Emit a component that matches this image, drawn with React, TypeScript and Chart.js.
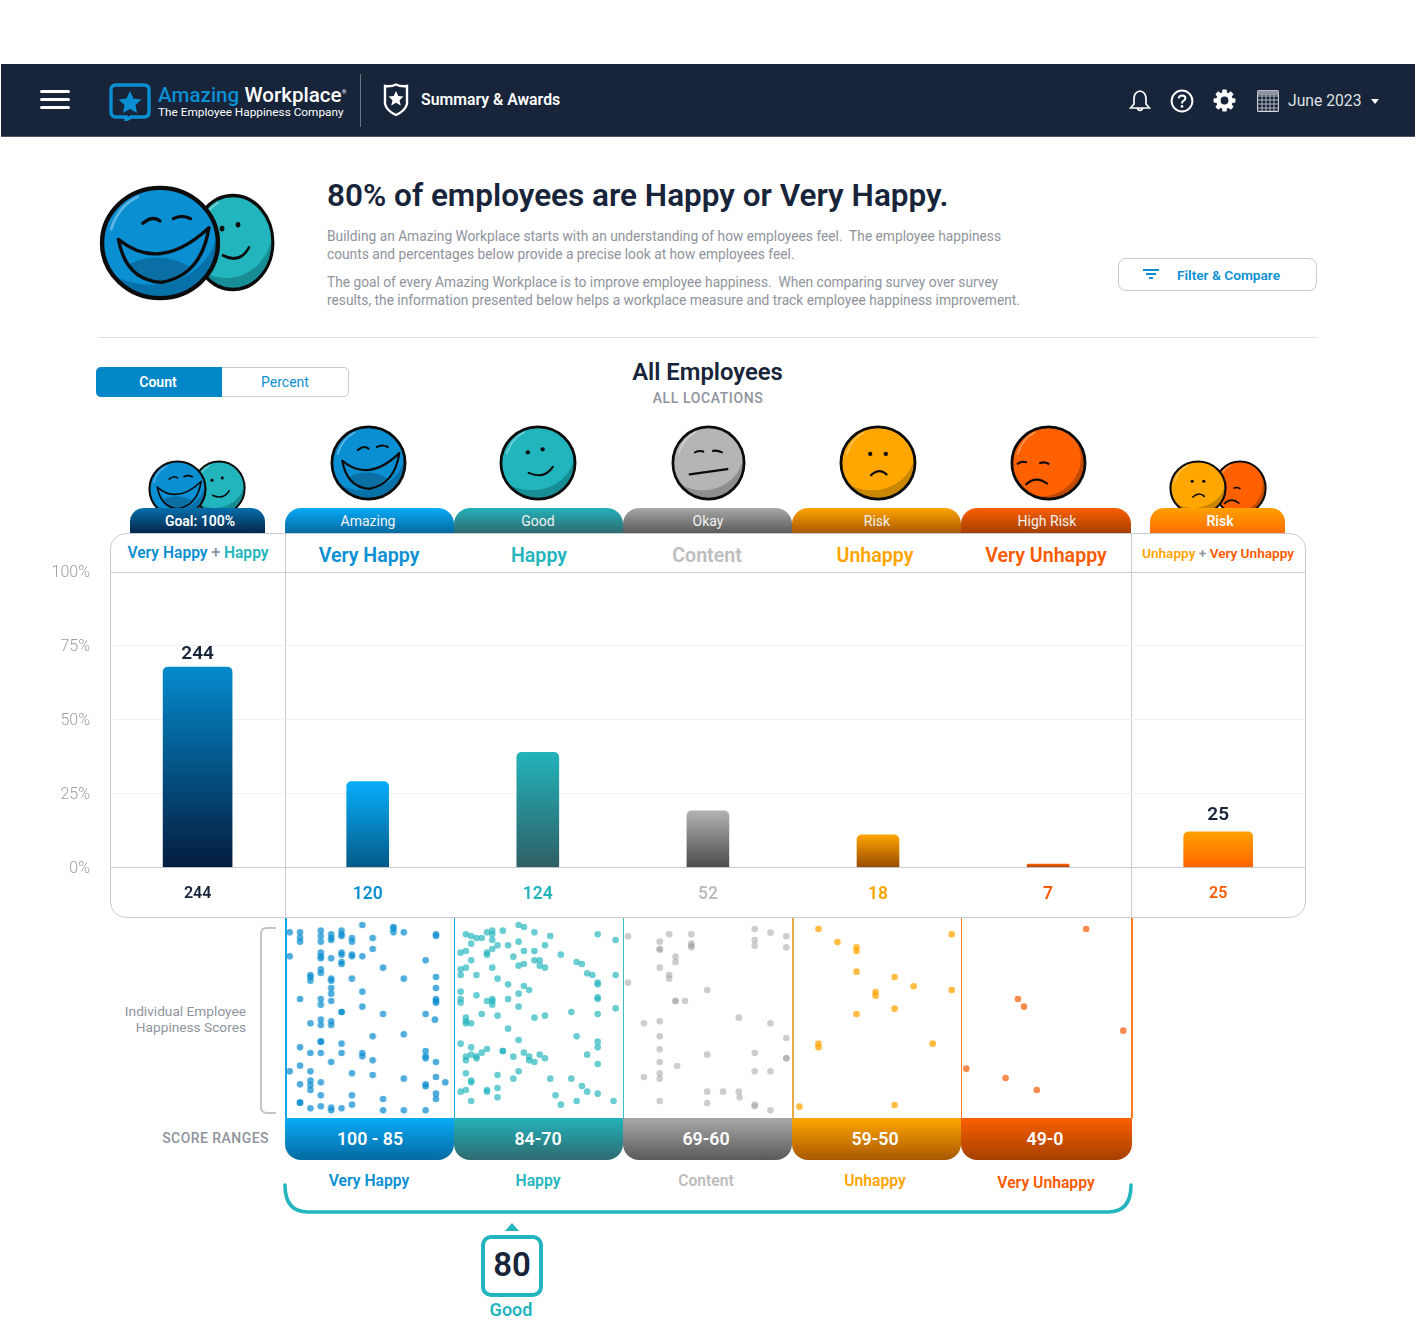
import { useEffect, useId, useRef } from "react";
import type { CSSProperties, ReactNode } from "react";
import { Chart, registerables } from "chart.js";

Chart.register(...registerables);

const FONT = "Roboto, sans-serif";
const NAVY = "#17243a";
const BLUE = "#0b8fd3";
const TEAL = "#23b5bd";
const SILVER = "#bdbdbd";
const AMBER = "#ffa500";
const ORANGE = "#fa5a00";
const GREY_TEXT = "#8f939c";
const LINE = "#c8cbd2";

// main chart
const categories = ["Goal", "Amazing", "Good", "Okay", "Risk", "High Risk", "Risk total"];
const counts = ["244", "120", "124", "52", "18", "7", "25"];
const countColors = [NAVY, BLUE, TEAL, SILVER, AMBER, ORANGE, ORANGE];
const groupShares = [67.8, null, null, null, null, null, 12];
const bandShares = [null, 29, 38.9, 19.1, 11, 1.1, null];
const barTopColors = ["#048bcd", "#08aefb", "#23b3ba", "#b2b2b2", "#ffa500", "#f96000", "#ffa000"];
const barBottomColors = ["#051c3f", "#045a88", "#2f5f66", "#4c4c4c", "#974c00", "#a94000", "#ff6400"];
const percentTicks = [0, 25, 50, 75, 100];

// individual scores: [score, spread positions]
const veryHappyDots: [number, number[]][] = [
  [100, [52, 124, 469]],
  [99, [52, 68, 80, 252, 397, 452, 508, 563, 563]],
  [98, [180, 186, 197, 325, 414, 469, 497, 511, 525, 580]],
  [97, [47, 63, 80, 113, 124, 130, 163, 174, 252, 269, 314, 330, 380, 380, 414, 502, 541, 574]],
  [96, [58, 69, 75, 130, 191, 197, 219, 236, 258, 319, 330, 441, 578, 586]],
  [95, [47, 58, 63, 113, 119, 141, 147, 291, 291, 386, 414, 580]],
  [94, [69, 80, 119, 124, 191, 475, 541, 569]],
  [93, [30, 124, 230, 275, 414, 424]],
  [92, [69, 102, 364, 436, 480]],
  [91, [158, 297, 552, 586]],
  [90, [36, 41, 52]],
  [89, [52, 191, 358, 491, 586]],
  [86.9, [136, 297, 408, 424, 430, 508, 514, 586]],
  [86, [314]],
  [85.9, [58, 63, 186, 219, 252, 258, 263, 441, 486, 536, 552]],
  [85, [502]],
];
const happyDots: [number, number[]][] = [
  [84, [113, 163, 180, 230, 252, 263, 386, 530]],
  [83.5, [58, 108, 158, 308, 319, 325, 425, 436, 475, 525]],
  [83, [63, 86, 136, 325, 397, 419, 497, 502, 558]],
  [82.5, [69, 180, 241, 424, 430]],
  [82, [69, 297, 413]],
  [81.5, [52, 113, 119, 258, 402, 525, 530]],
  [81, [47, 58, 75, 102, 158, 252, 258, 269]],
  [80.5, [91, 191, 302, 480, 519, 547]],
  [80, [47, 408, 408]],
  [79.5, [91, 208, 252, 341]],
  [79, [125, 425, 491]],
  [78.5, [30, 80, 152, 236, 275, 375, 469]],
  [78, [36, 108, 147, 213, 413]],
  [77.5, [225, 425, 436]],
  [77, [52, 108, 136, 308, 441]],
  [76.5, [136, 152, 419]],
  [76, [91, 158, 302, 430]],
  [75.5, [63, 491]],
  [75, [541]],
  [74.5, [119, 569]],
  [73.5, [291, 491]],
  [73, [141, 364, 558]],
  [72.5, [147, 513]],
  [72, [175, 419, 530]],
  [71.5, [180]],
  [71, [58, 203, 208, 247, 252, 297, 380, 397, 447, 536]],
  [69.5, [558]],
  [69.3, [75, 180, 280]],
];
const contentDots: [number, number[]][] = [
  [69, [64, 203]],
  [68, [325, 486]],
  [67, [80, 102, 104, 158, 319, 364, 403, 441, 475, 491, 558]],
  [66.4, [58, 180, 191]],
  [66, [125, 141, 258, 258]],
  [65.9, [453]],
  [65.4, [258]],
  [65, [58, 86, 92, 97]],
  [64, [225, 419, 530, 564]],
  [63, [530]],
  [62, [308, 530]],
  [61.95, [547]],
  [61, [42, 75, 92, 414, 469, 569, 574]],
  [60, [53, 325, 469, 586]],
  [59, [64, 97, 369, 430, 430]],
];
const unhappyDots: [number, number[]][] = [
  [59, [575]],
  [58, [42, 386, 397]],
  [57, [81]],
  [56, [97, 108, 170, 297]],
  [55, [231, 242]],
  [54, [186, 281, 570]],
  [53, [214]],
  [52, [386]],
  [51, [58, 225]],
];
const veryUnhappyDots: [number, number[]][] = [
  [49, [461]],
  [36.75, [489]],
  [32.9, [252]],
  [31, [275]],
  [27, [525]],
  [11.6, [42]],
  [0, [347]],
];

const rangeLabels = ["100 - 85", "84-70", "69-60", "59-50", "49-0"];
const moodLabels = ["Very Happy", "Happy", "Content", "Unhappy", "Very Unhappy"];
const statusLabels = ["Amazing", "Good", "Okay", "Risk", "High Risk"];

function T({ x, y, size, color, weight = 400, anchor = "middle", spacing, children }: {
  x: number; y: number; size: number; color: string; weight?: number;
  anchor?: "start" | "middle" | "end"; spacing?: number; children: ReactNode;
}) {
  const tx = anchor === "middle" ? "-50%" : anchor === "end" ? "-100%" : "0";
  return (
    <div
      style={{
        position: "absolute", left: x, top: y, transform: `translate(${tx},-50%)`,
        fontFamily: FONT, fontSize: size, color, fontWeight: weight, whiteSpace: "nowrap",
        lineHeight: 1.2, letterSpacing: spacing,
      }}
    >
      {children}
    </div>
  );
}

function Box({ x, y, w, h, style, children }: { x: number; y: number; w: number; h: number; style?: CSSProperties; children?: ReactNode }) {
  return <div style={{ position: "absolute", left: x, top: y, width: w, height: h, boxSizing: "border-box", ...style }}>{children}</div>;
}

type Mood = "laugh" | "smile" | "flat" | "sad" | "vsad";

function Face({ x, y, w, h, mood, color, shade, tongue }: { x: number; y: number; w: number; h: number; mood: Mood; color: string; shade: string; tongue?: string }) {
  const id = useId();
  const ink = { fill: "none", stroke: "#0c0c0c", strokeWidth: 2.8, strokeLinecap: "round" as const };
  return (
    <svg viewBox="0 0 100 100" preserveAspectRatio="none" style={{ position: "absolute", left: x, top: y, width: w, height: h }}>
      <defs>
        <clipPath id={id}><ellipse cx="50" cy="50" rx="47.5" ry="47.5" /></clipPath>
      </defs>
      <ellipse cx="50" cy="50" rx="47.5" ry="47.5" fill={shade} />
      <g clipPath={`url(#${id})`}>
        {mood === "vsad"
          ? <ellipse cx="40" cy="44" rx="52" ry="50" fill={color} />
          : <ellipse cx="42" cy="36" rx="55" ry="50" fill={color} />}
      </g>
      <path d="M10 38 Q16 18 32 10" fill="none" stroke="#fff" strokeOpacity="0.35" strokeWidth="2.2" strokeLinecap="round" />
      <ellipse cx="50" cy="50" rx="47.5" ry="47.5" fill="none" stroke="#0c0c0c" strokeWidth="3.6" />
      {mood === "laugh" && (
        <g>
          <path d="M16 47 Q50 76 90 37 Q86 76 51 84 Q22 82 16 47 Z" fill={color} stroke="none" />
          <path d="M25 68 Q50 56 74 70 Q62 82 51 84 Q34 82 25 68 Z" fill={tongue} />
          <path d="M16 47 Q50 76 90 37" {...ink} />
          <path d="M16 47 Q22 82 51 84 Q84 78 90 37" {...ink} />
          <path d="M36 33 Q44 26 50 31" {...ink} />
          <path d="M61 29 Q68 25 75 29" {...ink} />
        </g>
      )}
      {mood === "smile" && (
        <g>
          <circle cx="37" cy="36" r="2.8" fill="#0c0c0c" />
          <circle cx="56" cy="32" r="2.8" fill="#0c0c0c" />
          <path d="M38 63 Q58 72 69 55" {...ink} />
        </g>
      )}
      {mood === "flat" && (
        <g>
          <path d="M32 36 Q38 33 43 35" {...ink} />
          <path d="M56 34 Q62 33 68 36" {...ink} />
          <path d="M25 65 L75 58" {...ink} strokeWidth={3.2} />
        </g>
      )}
      {mood === "sad" && (
        <g>
          <circle cx="40" cy="38" r="2.8" fill="#0c0c0c" />
          <circle cx="60" cy="38" r="2.8" fill="#0c0c0c" />
          <path d="M41 66 Q52 56 61 65" {...ink} />
        </g>
      )}
      {mood === "vsad" && (
        <g>
          <path d="M10 51 Q15 47 21 49" {...ink} />
          <path d="M39 50 Q45 48 50 51" {...ink} />
          <path d="M21 78 Q34 66 48 77" {...ink} />
        </g>
      )}
    </svg>
  );
}

function DotBand({ x, w, dots, min, max, color }: { x: number; w: number; dots: [number, number[]][]; min: number; max: number; color: string }) {
  const ref = useRef<HTMLCanvasElement | null>(null);

  useEffect(() => {
    if (!ref.current) return;
    const chart = new Chart(ref.current, {
      type: "scatter",
      data: {
        datasets: [{
          data: dots.flatMap(([score, spread]) => spread.map((s) => ({ x: score, y: s }))),
          backgroundColor: color,
          pointRadius: 3.3,
          pointBorderWidth: 0,
          clip: false,
        }],
      },
      options: {
        animation: false,
        responsive: false,
        layout: { autoPadding: false, padding: 0 },
        plugins: { legend: { display: false }, tooltip: { enabled: false } },
        scales: {
          x: { type: "linear", display: false, reverse: true, min, max },
          y: { type: "linear", display: false, reverse: true, min: 9, max: 609 },
        },
      },
    });
    return () => chart.destroy();
  }, []);

  return <canvas ref={ref} width={w} height={200} style={{ position: "absolute", left: x, top: 918, width: w, height: 200 }} />;
}

function BarsChart() {
  const ref = useRef<HTMLCanvasElement | null>(null);

  useEffect(() => {
    if (!ref.current) return;

    const fill = (ctx: any) => {
      const chart = ctx.chart;
      const i = ctx.dataIndex;
      const value = ctx.raw;
      if (!chart.chartArea || value == null) return barTopColors[i];
      const top = chart.scales.y.getPixelForValue(value);
      const base = chart.scales.y.getPixelForValue(0);
      const g = chart.ctx.createLinearGradient(0, top, 0, base);
      g.addColorStop(0, barTopColors[i]);
      g.addColorStop(1, barBottomColors[i]);
      return g;
    };

    const topCounts = {
      id: "topCounts",
      afterDatasetsDraw(chart: any) {
        const c = chart.ctx;
        const bars = chart.getDatasetMeta(0).data;
        c.save();
        c.fillStyle = NAVY;
        c.textAlign = "center";
        c.textBaseline = "alphabetic";
        c.font = `600 19px ${FONT}`;
        groupShares.forEach((v, i) => {
          if (v == null) return;
          const gap = i === 0 ? 8 : 12;
          c.fillText(counts[i], bars[i].x, bars[i].y - gap);
        });
        c.restore();
      },
    };

    const chart = new Chart(ref.current, {
      type: "bar",
      data: {
        labels: categories,
        datasets: [
          { data: groupShares, barThickness: 69, backgroundColor: fill, borderRadius: { topLeft: 5, topRight: 5 }, borderSkipped: "bottom", grouped: false } as any,
          { data: bandShares, barThickness: 42, backgroundColor: fill, borderRadius: { topLeft: 5, topRight: 5 }, borderSkipped: "bottom", grouped: false } as any,
        ],
      },
      options: {
        animation: false,
        responsive: false,
        layout: { autoPadding: false, padding: { top: 12, right: 6.75, bottom: 0, left: 0 } },
        plugins: { legend: { display: false }, tooltip: { enabled: false } },
        scales: {
          x: {
            grid: { display: false },
            border: { display: false },
            afterFit: (s: any) => { s.height = 42.7; s.paddingLeft = 0; s.paddingRight = 0; },
            ticks: {
              autoSkip: false,
              maxRotation: 0,
              padding: 9,
              callback: (_v: any, i: number) => counts[i],
              color: (c: any) => countColors[c.index],
              font: (c: any) => ({ family: FONT, size: c.index === 0 || c.index === 6 ? 16 : 17.5, weight: 600 }),
            },
          },
          y: {
            min: 0,
            max: 100,
            border: { display: false },
            afterFit: (s: any) => { s.width = 72.55; s.paddingTop = 0; s.paddingBottom = 0; },
            afterBuildTicks: (s: any) => { s.ticks = percentTicks.map((value) => ({ value })); },
            grid: {
              drawTicks: false,
              color: (c: any) => (c.tick.value === 0 || c.tick.value === 100 ? LINE : "#f0f1f3"),
            },
            ticks: {
              padding: 22.5,
              labelOffset: 1.2,
              callback: (v: any) => `${v}%`,
              color: "#9a9ea6",
              font: { family: FONT, size: 16, weight: 300 },
            },
          },
        },
      },
      plugins: [topCounts],
    });
    return () => chart.destroy();
  }, []);

  return <canvas ref={ref} width={1270} height={350} style={{ position: "absolute", left: 40, top: 560, width: 1270, height: 350 }} />;
}

const bandEdges = [285, 453.5, 622.5, 792, 960.5, 1131];
const tabTop = ["#09abf8", "#24b2ba", "#a8a8a8", "#ffa500", "#fb5f00"];
const tabBottom = ["#036aa0", "#2e6a70", "#5a5a5a", "#a85800", "#a54000"];
const headColors = [BLUE, TEAL, SILVER, AMBER, ORANGE];
const headX = [369, 539, 707, 875, 1046];
const moodX = [369, 538, 706, 875, 1046];
const rangeX = [370, 538, 706, 875, 1045];
const statusX = [368, 538, 708, 877, 1047];
const dotColors = ["rgba(11,142,208,0.72)", "rgba(35,181,189,0.68)", "rgba(160,160,160,0.52)", "rgba(255,165,0,0.75)", "rgba(250,90,0,0.7)"];
const sideLineColors = ["#13a6e6", "#13a6e6", "#3dbcc4", "#e8ab45", "#fb7a20", "#fb7a20"];

export default function App() {
  return (
    <div style={{ position: "absolute", left: 0, top: 0, width: 1416, height: 1327, overflow: "hidden", background: "#fff" }}>
      {/* top bar */}
      <Box x={1} y={64} w={1414} h={73} style={{ background: NAVY, borderBottom: "1px solid #4a5568" }} />
      {[91, 99, 107].map((y) => <Box key={y} x={40} y={y - 1.5} w={30} h={3.6} style={{ background: "#fff", borderRadius: 2 }} />)}
      <svg viewBox="0 0 42 38" style={{ position: "absolute", left: 109, top: 83, width: 42, height: 38 }}>
        <path d="M7 2 H35 Q40 2 40 7 V29 Q40 34 35 34 H22 L17 37 V34 H7 Q2 34 2 29 V7 Q2 2 7 2 Z" fill="none" stroke={BLUE} strokeWidth="3.4" />
        <path d="M21 8 L24.5 15.5 L32.5 16.5 L26.5 22 L28 30 L21 26 L14 30 L15.5 22 L9.5 16.5 L17.5 15.5 Z" fill={BLUE} />
      </svg>
      <T x={158} y={95} size={20.6} color="#fff" weight={500} anchor="start"><span style={{ color: BLUE }}>Amazing</span> Workplace<sup style={{ fontSize: 6 }}>®</sup></T>
      <T x={158} y={112} size={11.8} color="#fff" anchor="start">The Employee Happiness Company</T>
      <Box x={360} y={74} w={1} h={53} style={{ background: "#6b7480" }} />
      <svg viewBox="0 0 26 34" style={{ position: "absolute", left: 383, top: 83, width: 26, height: 34 }}>
        <path d="M2 3 Q8 4 13 1.5 Q18 4 24 3 V21 Q22 28 13 32 Q4 28 2 21 Z" fill="none" stroke="#fff" strokeWidth="2.4" />
        <path d="M13 8 L15.3 13 L20.5 13.6 L16.6 17.2 L17.7 22.4 L13 19.7 L8.3 22.4 L9.4 17.2 L5.5 13.6 L10.7 13 Z" fill="#fff" />
      </svg>
      <T x={421} y={99.5} size={15.8} color="#fff" weight={600} anchor="start">Summary &amp; Awards</T>
      <svg viewBox="0 0 22 24" style={{ position: "absolute", left: 1129, top: 89, width: 22, height: 24 }}>
        <path d="M11 2 Q17 3 17 10 V15 L20.5 19 H1.5 L5 15 V10 Q5 3 11 2 Z M8 19 Q11 24 14 19" fill="none" stroke="#fff" strokeWidth="1.7" />
      </svg>
      <svg viewBox="0 0 24 24" style={{ position: "absolute", left: 1170, top: 89, width: 24, height: 24 }}>
        <circle cx="12" cy="12" r="10.4" fill="none" stroke="#fff" strokeWidth="2" />
        <path d="M8.6 9.4 Q9 6.4 12.2 6.4 Q15.4 6.6 15.4 9.2 Q15.4 11 13.2 12 Q12 12.8 12 14.4" fill="none" stroke="#fff" strokeWidth="2" />
        <circle cx="12" cy="17.4" r="1.3" fill="#fff" />
      </svg>
      <svg viewBox="0 0 24 24" style={{ position: "absolute", left: 1213, top: 89, width: 23, height: 23 }}>
        <circle cx="12" cy="12" r="6.4" fill="none" stroke="#fff" strokeWidth="4.6" />
        {[0, 45, 90, 135, 180, 225, 270, 315].map((a) => <rect key={a} x="9.6" y="0.6" width="4.8" height="5" rx="1" fill="#fff" transform={`rotate(${a} 12 12)`} />)}
      </svg>
      <svg viewBox="0 0 22 22" style={{ position: "absolute", left: 1257, top: 90, width: 22, height: 22 }}>
        <rect x="0.6" y="0.6" width="20.8" height="20.8" rx="1" fill="none" stroke="#d6d8dc" strokeWidth="1.1" />
        <rect x="0.6" y="0.6" width="20.8" height="4.4" fill="#8e95a1" />
        {[5, 9, 13, 17].map((v) => <path key={v} d={`M0 ${v + 1}H22`} stroke="#d6d8dc" strokeWidth="0.8" />)}
        {[4, 8, 12, 16].map((v) => <path key={v} d={`M${v + 1} 5V22`} stroke="#d6d8dc" strokeWidth="0.8" />)}
      </svg>
      <T x={1288} y={100.5} size={15.7} color="#dfe1e4" anchor="start">June 2023</T>
      <svg viewBox="0 0 8 5" style={{ position: "absolute", left: 1371, top: 99, width: 8, height: 5 }}><path d="M0 0H8L4 5Z" fill="#fff" /></svg>

      {/* intro */}
      <Face x={191} y={193} w={84} h={99} mood="smile" color={TEAL} shade="#178d95" />
      <Face x={99} y={185} w={122} h={116} mood="laugh" color="#0b8fd3" shade="#0671a8" tongue="#0a6fa5" />
      <T x={327} y={196} size={31.5} color={NAVY} weight={600} anchor="start">80% of employees are Happy or Very Happy.</T>
      <T x={327} y={236} size={13.75} color={GREY_TEXT} anchor="start">Building an Amazing Workplace starts with an understanding of how employees feel.&nbsp; The employee happiness</T>
      <T x={327} y={254} size={13.75} color={GREY_TEXT} anchor="start">counts and percentages below provide a precise look at how employees feel.</T>
      <T x={327} y={282} size={13.75} color={GREY_TEXT} anchor="start">The goal of every Amazing Workplace is to improve employee happiness.&nbsp; When comparing survey over survey</T>
      <T x={327} y={300} size={13.75} color={GREY_TEXT} anchor="start">results, the information presented below helps a workplace measure and track employee happiness improvement.</T>
      <Box x={1118} y={258} w={199} h={33} style={{ border: `1px solid ${LINE}`, borderRadius: 8 }} />
      <svg viewBox="0 0 16 10" style={{ position: "absolute", left: 1143, top: 269, width: 16, height: 10 }}>
        <path d="M0 1H16M3 5H13M6 9H10" stroke={BLUE} strokeWidth="1.8" />
      </svg>
      <T x={1177} y={275} size={13.7} color={BLUE} weight={600} anchor="start">Filter &amp; Compare</T>
      <Box x={98} y={337} w={1219} h={1} style={{ background: "#dfe0e4" }} />

      {/* toggle + title */}
      <Box x={96} y={367} w={253} h={30} style={{ border: `1px solid ${LINE}`, borderRadius: 5 }} />
      <Box x={96} y={367} w={126} h={30} style={{ background: "#0387c9", borderRadius: "5px 0 0 5px" }} />
      <T x={158} y={382} size={14} color="#fff" weight={600}>Count</T>
      <T x={285} y={382} size={14} color={BLUE}>Percent</T>
      <T x={707.5} y={372} size={23.8} color={NAVY} weight={600}>All Employees</T>
      <T x={708} y={397.5} size={14} color={GREY_TEXT} weight={500} spacing={0.6}>ALL LOCATIONS</T>

      {/* faces above the tabs */}
      <Face x={192} y={460} w={54} h={56} mood="smile" color={TEAL} shade="#178d95" />
      <Face x={148} y={460} w={59} h={58} mood="laugh" color="#0b8fd3" shade="#0671a8" tongue="#0a6fa5" />
      <Face x={1213} y={460} w={54} h={56} mood="vsad" color="#ff6000" shade="#bf4a00" />
      <Face x={1169} y={460} w={58} h={56} mood="sad" color="#ffa700" shade="#c98600" />
      <Face x={330} y={425} w={77} h={76} mood="laugh" color="#0b8fd3" shade="#0671a8" tongue="#0a6fa5" />
      <Face x={499} y={425} w={78} h={76} mood="smile" color={TEAL} shade="#178d95" />
      <Face x={671} y={425} w={75} h={76} mood="flat" color="#b5b5b5" shade="#8e8e8e" />
      <Face x={839} y={425} w={78} h={76} mood="sad" color="#ffa700" shade="#c98600" />
      <Face x={1010} y={425} w={77} h={76} mood="vsad" color="#ff6000" shade="#bf4a00" />

      {/* tabs */}
      <Box x={130} y={508} w={135} h={25} style={{ background: "linear-gradient(#056fac,#06264a)", borderRadius: "14px 14px 0 0" }} />
      <T x={200} y={521} size={14} color="#fff" weight={600}>Goal: 100%</T>
      {statusLabels.map((s, i) => (
        <Box key={s} x={bandEdges[i]} y={508} w={bandEdges[i + 1] - bandEdges[i]} h={25}
          style={{ background: `linear-gradient(${tabTop[i]},${tabBottom[i]})`, borderRadius: "16px 16px 0 0" }} />
      ))}
      {statusLabels.map((s, i) => <T key={s} x={statusX[i]} y={521} size={14} color="#f2f2f2">{s}</T>)}
      <Box x={1150} y={508} w={135} h={25} style={{ background: "linear-gradient(#ffa000,#ff7000)", borderRadius: "14px 14px 0 0" }} />
      <T x={1220} y={521} size={14} color="#fff" weight={600}>Risk</T>

      {/* frame */}
      <Box x={110} y={533} w={1196} h={385} style={{ border: `1px solid ${LINE}`, borderRadius: 16 }} />
      <Box x={110} y={572} w={1196} h={1} style={{ background: LINE }} />
      <Box x={110} y={867} w={1196} h={1} style={{ background: LINE }} />
      <Box x={285} y={533} w={1} h={385} style={{ background: LINE }} />
      <Box x={1131} y={533} w={1} h={385} style={{ background: LINE }} />
      <T x={198} y={553} size={15.6} color={GREY_TEXT} weight={600}><span style={{ color: BLUE }}>Very Happy</span> + <span style={{ color: TEAL }}>Happy</span></T>
      <T x={1218} y={553} size={13.6} color={GREY_TEXT} weight={600}><span style={{ color: AMBER }}>Unhappy</span> + <span style={{ color: ORANGE }}>Very Unhappy</span></T>
      {moodLabels.map((m, i) => <T key={m} x={headX[i]} y={555.5} size={19.6} color={headColors[i]} weight={600}>{m}</T>)}
      <BarsChart />

      {/* individual scores */}
      <svg style={{ position: "absolute", left: 258, top: 926, width: 22, height: 190 }}>
        <path d="M18 2 H9 Q3 2 3 8 V181 Q3 187 9 187 H18" fill="none" stroke="#c2c4c9" strokeWidth="2" />
      </svg>
      <T x={246} y={1011} size={13.7} color={GREY_TEXT} anchor="end">Individual Employee</T>
      <T x={246} y={1027} size={13.7} color={GREY_TEXT} anchor="end">Happiness Scores</T>
      <T x={269} y={1138} size={14} color={GREY_TEXT} weight={500} anchor="end" spacing={0.45}>SCORE RANGES</T>
      {bandEdges.map((x, i) => <Box key={x} x={x} y={918} w={1.5} h={200} style={{ background: sideLineColors[i] }} />)}
      <DotBand x={285} w={168.5} dots={veryHappyDots} min={84.16} max={100.45} color={dotColors[0]} />
      <DotBand x={453.5} w={169} dots={happyDots} min={68.6} max={84.63} color={dotColors[1]} />
      <DotBand x={622.5} w={169.5} dots={contentDots} min={58.64} max={69.32} color={dotColors[2]} />
      <DotBand x={792} w={168.5} dots={unhappyDots} min={50.51} max={59.39} color={dotColors[3]} />
      <DotBand x={960.5} w={170.5} dots={veryUnhappyDots} min={-2.4} max={50.66} color={dotColors[4]} />
      {rangeLabels.map((r, i) => (
        <Box key={r} x={bandEdges[i]} y={1118} w={bandEdges[i + 1] - bandEdges[i] + (i === 4 ? 1 : 0)} h={42}
          style={{ background: `linear-gradient(${tabTop[i]},${tabBottom[i]})`, borderRadius: "0 0 16px 16px" }} />
      ))}
      {rangeLabels.map((r, i) => <T key={r} x={rangeX[i]} y={1138.5} size={17.8} color="#fff" weight={600}>{r}</T>)}
      {moodLabels.map((m, i) => <T key={m} x={moodX[i]} y={i === 4 ? 1182.5 : 1180.5} size={15.7} color={headColors[i]} weight={600}>{m}</T>)}

      {/* overall score */}
      <svg style={{ position: "absolute", left: 280, top: 1180, width: 856, height: 36 }}>
        <path d="M5 5 Q5 32 28 32 H828 Q851 32 851 5" fill="none" stroke={TEAL} strokeWidth="3.6" strokeLinecap="round" />
      </svg>
      <svg viewBox="0 0 14 8" style={{ position: "absolute", left: 505, top: 1223, width: 14, height: 8 }}><path d="M0 8L7 0L14 8Z" fill={TEAL} /></svg>
      <Box x={481} y={1235} w={62} h={62} style={{ border: `4px solid ${TEAL}`, borderRadius: 10 }} />
      <T x={512} y={1265} size={33} color={NAVY} weight={600}>80</T>
      <T x={511} y={1310} size={18} color={TEAL} weight={600}>Good</T>
    </div>
  );
}
